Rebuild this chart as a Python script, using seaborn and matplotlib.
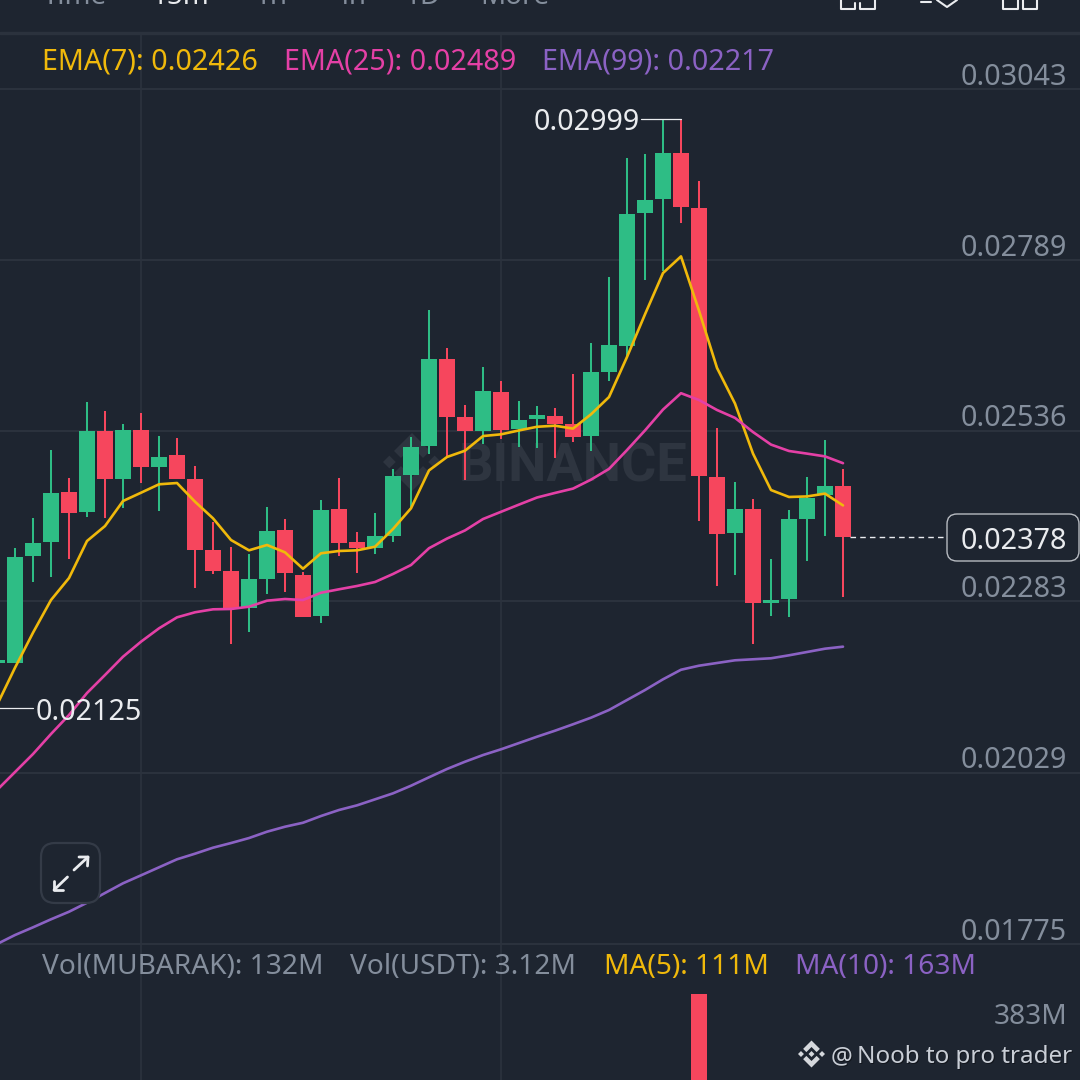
import numpy as np
import pandas as pd
import matplotlib
matplotlib.use("Agg")
import matplotlib.pyplot as plt
import seaborn as sns
from matplotlib.patches import FancyBboxPatch

# candle values, first candle is cut by the left edge
opens = [0.02192, 0.021922, 0.023509, 0.023708, 0.024454, 0.024153, 0.025358, 0.024642, 0.025373, 0.024829, 0.024998,
         0.024646, 0.023593, 0.023278, 0.022729, 0.023159, 0.02389, 0.023227, 0.022615, 0.024197, 0.023712, 0.023628,
         0.023806, 0.024706, 0.02514, 0.026426, 0.025566, 0.025352, 0.025937, 0.025388, 0.025536, 0.025581, 0.025458,
         0.025278, 0.026233, 0.026623, 0.028593, 0.028794, 0.029482, 0.028665, 0.024676, 0.023846, 0.024207, 0.022815,
         0.022867, 0.024053, 0.024409, 0.024537]
closes = [0.02196, 0.023494, 0.023702, 0.024443, 0.024147, 0.025358, 0.024642, 0.025373, 0.024829, 0.024973, 0.024646,
          0.023598, 0.023278, 0.022733, 0.023159, 0.023875, 0.023248, 0.022604, 0.024187, 0.023693, 0.023623, 0.023806,
          0.024687, 0.025121, 0.026426, 0.025566, 0.025352, 0.025946, 0.02537, 0.025527, 0.02559, 0.025462, 0.025272,
          0.026226, 0.02664, 0.028582, 0.028778, 0.029482, 0.028683, 0.024691, 0.023831, 0.024202, 0.022809, 0.022846,
          0.024053, 0.024372, 0.024537, 0.02378]
highs = [0.02196, 0.023628, 0.024068, 0.025076, 0.024657, 0.025784, 0.025655, 0.025458, 0.02563, 0.025289, 0.02525,
         0.024835, 0.024004, 0.023642, 0.023534, 0.024227, 0.024053, 0.023272, 0.024335, 0.024657, 0.023856, 0.024138,
         0.02479, 0.025263, 0.027159, 0.026589, 0.025744, 0.026307, 0.0261, 0.025808, 0.025729, 0.025699, 0.026204,
         0.026663, 0.027635, 0.029407, 0.029472, 0.029976, 0.02999, 0.02907, 0.02541, 0.024605, 0.02435, 0.023466,
         0.024187, 0.024676, 0.025225, 0.024795]
lows = [0.02192, 0.021922, 0.023123, 0.023189, 0.023456, 0.024078, 0.024073, 0.024212, 0.024592, 0.024176, 0.024646,
        0.023026, 0.023238, 0.022195, 0.022382, 0.022941, 0.022966, 0.022604, 0.022506, 0.023509, 0.023257, 0.023534,
        0.023717, 0.024231, 0.025013, 0.024973, 0.024632, 0.025171, 0.02524, 0.025114, 0.025106, 0.024958, 0.025195,
        0.025062, 0.0261, 0.026441, 0.027598, 0.027731, 0.02845, 0.024028, 0.023064, 0.023217, 0.022199, 0.022615,
        0.0226, 0.02343, 0.023801, 0.022896]

ema7 = [0.021295, 0.021848, 0.022367, 0.022852, 0.023178, 0.023727, 0.023949, 0.02432, 0.024443, 0.024568, 0.024587,
        0.02431, 0.024064, 0.023742, 0.023589, 0.023668, 0.023559, 0.023316, 0.023545, 0.023579, 0.023589, 0.023642,
        0.023905, 0.024212, 0.024774, 0.024973, 0.025066, 0.025284, 0.025309, 0.025367, 0.025421, 0.025437, 0.025394,
        0.025606, 0.025862, 0.026456, 0.027089, 0.027701, 0.027948, 0.027142, 0.026294, 0.025765, 0.025023, 0.024483,
        0.02438, 0.024388, 0.02443, 0.024255]
ema25 = [0.020034, 0.020301, 0.020568, 0.020865, 0.021147, 0.021473, 0.02174, 0.022011, 0.022234, 0.022432, 0.022595,
         0.02267, 0.022714, 0.022719, 0.022753, 0.022842, 0.022867, 0.022852, 0.02296, 0.023011, 0.02306, 0.023119,
         0.023238, 0.023371, 0.02362, 0.023763, 0.023884, 0.024053, 0.02416, 0.024267, 0.024372, 0.02444, 0.024504,
         0.024637, 0.024796, 0.025076, 0.025367, 0.025676, 0.025919, 0.025818, 0.02567, 0.025553, 0.025343, 0.025157,
         0.025062, 0.025023, 0.024982, 0.024881]
ema99 = [0.01775, 0.017884, 0.017998, 0.018117, 0.018229, 0.018363, 0.018507, 0.018651, 0.018769, 0.018888, 0.019007,
         0.01909, 0.019179, 0.019248, 0.019322, 0.019416, 0.01949, 0.019549, 0.019649, 0.019738, 0.019807, 0.019896,
         0.019985, 0.020098, 0.020223, 0.020346, 0.020454, 0.020553, 0.020638, 0.020731, 0.020825, 0.020914, 0.021009,
         0.021107, 0.021221, 0.021369, 0.021517, 0.021676, 0.021818, 0.021878, 0.021918, 0.021958, 0.021973, 0.021988,
         0.022032, 0.022081, 0.02213, 0.02216]

price_ticks = [0.03043, 0.02789, 0.02536, 0.02283, 0.02029, 0.01775]
price_labels = ["0.03043", "0.02789", "0.02536", "0.02283", "0.02029", "0.01775"]
high_price = 0.02999
low_price = 0.02125
last_price = 0.02378

vol_index = [38]
vol_values = [383]

BG = "#1e2530"
GRID = "#2b323d"
GREEN = "#2ebd85"
RED = "#f6465d"
YELLOW = "#f0b90b"
PINK = "#e440a6"
PURPLE = "#8b62c4"
GREY = "#848e9c"
WHITE = "#eaecef"

sns.set_theme(style="dark", rc={"figure.facecolor": BG, "axes.facecolor": BG, "savefig.facecolor": BG})
plt.rcParams["font.family"] = ["Noto Sans", "DejaVu Sans"]

fig = plt.figure(figsize=(10.8, 10.8), dpi=100)
ax = fig.add_axes([0, 0, 1, 1])
ax2 = fig.add_axes([0, 0, 1, 136 / 1080])
ax2.patch.set_alpha(0)


def fx(x):
    return x / 1080


def fy(y):
    return 1 - y / 1080


def label(x, y, text, color=GREY, size=20.7, ha="left", **kw):
    ax.text(fx(x), fy(y), text, color=color, fontsize=size, ha=ha, va="center_baseline",
            transform=ax.transAxes, zorder=kw.pop("zorder", 8), **kw)


def poly(points, color, zorder):
    pts = np.array(points, dtype=float)
    ax.fill(fx(pts[:, 0]), fy(pts[:, 1]), color=color, lw=0, transform=ax.transAxes, zorder=zorder)


def stroke(points, color=WHITE, lw=1.6, zorder=8):
    pts = np.array(points, dtype=float)
    ax.plot(fx(pts[:, 0]), fy(pts[:, 1]), color=color, lw=lw, transform=ax.transAxes, zorder=zorder,
            solid_capstyle="round", solid_joinstyle="round", clip_on=True)


def logo(cx, cy, s, color, zorder):
    top = [(0, 1), (0.62, 0.38), (0.38, 0.14), (0, 0.52), (-0.38, 0.14), (-0.62, 0.38)]
    diamond = [(0.22, 0), (0, 0.22), (-0.22, 0), (0, -0.22)]
    poly([(cx + s * a, cy - s * b) for a, b in top], color, zorder)
    poly([(cx + s * a, cy + s * b) for a, b in top], color, zorder)
    for dx in (-0.78, 0, 0.78):
        poly([(cx + s * (a + dx), cy + s * b) for a, b in diamond], color, zorder)


idx = np.arange(len(opens)) - 1
opens = np.array(opens)
closes = np.array(closes)
highs = np.array(highs)
lows = np.array(lows)
up = closes >= opens

# grid first, then the BINANCE mark behind the candles
for p in price_ticks:
    ax.axhline(p, color=GRID, lw=1.5, zorder=1)
for v in (7, 27):
    ax.axvline(v, ymax=fy(34), color=GRID, lw=1.3, zorder=1)
ax.axhline(0.031261, color=GRID, lw=2.4, zorder=1)
logo(412, 462, 29, "#2e3540", 1.5)
ax.text(fx(459), fy(461), "BINANCE", color="#2e3540", fontsize=39, fontweight="bold", family="Roboto",
        va="center_baseline", transform=ax.transAxes, zorder=1.5)

# wicks and bodies
ax.vlines(idx[up], lows[up], highs[up], color=GREEN, lw=1.45, zorder=3)
ax.vlines(idx[~up], lows[~up], highs[~up], color=RED, lw=1.45, zorder=3)
sns.barplot(x=idx[up], y=(closes - opens)[up], bottom=opens[up], native_scale=True, width=0.86, color=GREEN,
            saturation=1, errorbar=None, linewidth=0, zorder=4, ax=ax)
sns.barplot(x=idx[~up], y=(opens - closes)[~up], bottom=closes[~up], native_scale=True, width=0.86, color=RED,
            saturation=1, errorbar=None, linewidth=0, zorder=4, ax=ax)

# ema lines
ema_df = pd.DataFrame({"candle": idx, "EMA(7)": ema7, "EMA(25)": ema25, "EMA(99)": ema99})
ema_long = ema_df.melt(id_vars="candle", var_name="line", value_name="price")
sns.lineplot(data=ema_long, x="candle", y="price", hue="line", estimator=None, legend=False, lw=1.9, zorder=5,
             palette={"EMA(7)": YELLOW, "EMA(25)": PINK, "EMA(99)": PURPLE}, ax=ax)

ax.set_xlim(-15 / 18, 1065 / 18)
ax.set_ylim(0.015734, 0.03175)
ax.set_axis_off()

# volume panel
sns.barplot(x=vol_index, y=vol_values, native_scale=True, width=0.86, color=RED, saturation=1, errorbar=None,
            linewidth=0, ax=ax2)
ax2.set_xlim(-15 / 18, 1065 / 18)
ax2.set_ylim(300, 431.3)
ax2.set_axis_off()

# price labels sit just above their grid lines
for p, text in zip(price_ticks, price_labels):
    ax.annotate(text, xy=(fx(1067), p), xycoords=("axes fraction", "data"), xytext=(0, -1.8),
                textcoords="offset points", ha="right", va="bottom", color=GREY, fontsize=20.7, zorder=8)

# high / low markers
ax.plot([(641 - 15) / 18, 37], [high_price, high_price], color=WHITE, lw=0.9, zorder=6)
label(640, 119, "0.02999", color=WHITE, ha="right")
ax.plot([-1, 21 / 18 - 0.17], [low_price, low_price], color=WHITE, lw=0.9, zorder=6)
label(36, 709, "0.02125", color=WHITE)

# last price tag
ax.plot([46.4, 51.7], [last_price, last_price], color=WHITE, lw=1, ls=(0, (4, 3)), zorder=6)
ax.add_patch(FancyBboxPatch((fx(955), fy(553)), 116 / 1080, 31 / 1080,
                            boxstyle=f"round,pad={8 / 1080},rounding_size={10 / 1080}",
                            transform=ax.transAxes, fc=BG, ec="#b7bbc1", lw=1, zorder=7))
label(1067, 538, "0.02378", color=WHITE, ha="right")

# header rows
label(42, 58, "EMA(7): 0.02426", color=YELLOW)
label(284, 58, "EMA(25): 0.02489", color=PINK)
label(542, 58, "EMA(99): 0.02217", color=PURPLE)
label(42, 964, "Vol(MUBARAK): 132M", size=20.2)
label(350, 964, "Vol(USDT): 3.12M", size=20.2)
label(604, 964, "MA(5): 111M", color=YELLOW, size=20.2)
label(795, 964, "MA(10): 163M", color=PURPLE, size=20.2)
label(1067, 1014, "383M", ha="right", size=20.2)

# tabs cut by the top edge
for x, text, color, weight in [(43, "Time", GREY, "normal"), (152, "15m", WHITE, "bold"), (255, "1h", GREY, "normal"),
                               (333, "4h", GREY, "normal"), (405, "1D", GREY, "normal"), (480, "More", GREY, "normal")]:
    ax.text(fx(x), fy(4), text, color=color, fontsize=20, fontweight=weight, va="baseline",
            transform=ax.transAxes, zorder=8, clip_on=False)

# toolbar icons cut by the top edge
stroke([(841, 0), (841, 9), (855, 9), (855, 3)], lw=1.5)
stroke([(860, 3), (860, 9), (875, 9), (875, 0)], lw=1.5)
stroke([(921, 2), (931, 2)], lw=1.5)
stroke([(937, 0), (947, 7), (957, 0)], lw=1.5)
stroke([(1003, 0), (1003, 9), (1018, 9), (1018, 0)], lw=1.5)
stroke([(1023, 0), (1023, 9), (1037, 9), (1037, 0)], lw=1.5)

# expand button
ax.add_patch(FancyBboxPatch((fx(53), fy(891)), 35 / 1080, 36 / 1080,
                            boxstyle=f"round,pad={12 / 1080},rounding_size={14 / 1080}",
                            transform=ax.transAxes, fc=BG, ec="#343b47", lw=1.6, zorder=7))
stroke([(74, 870), (88, 857)], lw=2, zorder=8)
stroke([(79, 857), (88, 857), (87.5, 866)], lw=2, zorder=8)
stroke([(67.5, 877), (54, 890)], lw=2, zorder=8)
stroke([(63, 890), (54, 890), (54, 881)], lw=2, zorder=8)

# watermark, with a faint dark copy as its shadow
logo(811.5, 1054, 13.5, "#d5d8dc", 8)
label(832, 1055, "@", color="#12161d", size=17.4, zorder=7.5)
label(858, 1055, "Noob to pro trader", color="#12161d", size=17.4, zorder=7.5)
label(831, 1054, "@", color="#c9ced6", size=17.4)
label(857, 1054, "Noob to pro trader", color="#c9ced6", size=17.4)

fig.savefig("out.png", dpi=100)
